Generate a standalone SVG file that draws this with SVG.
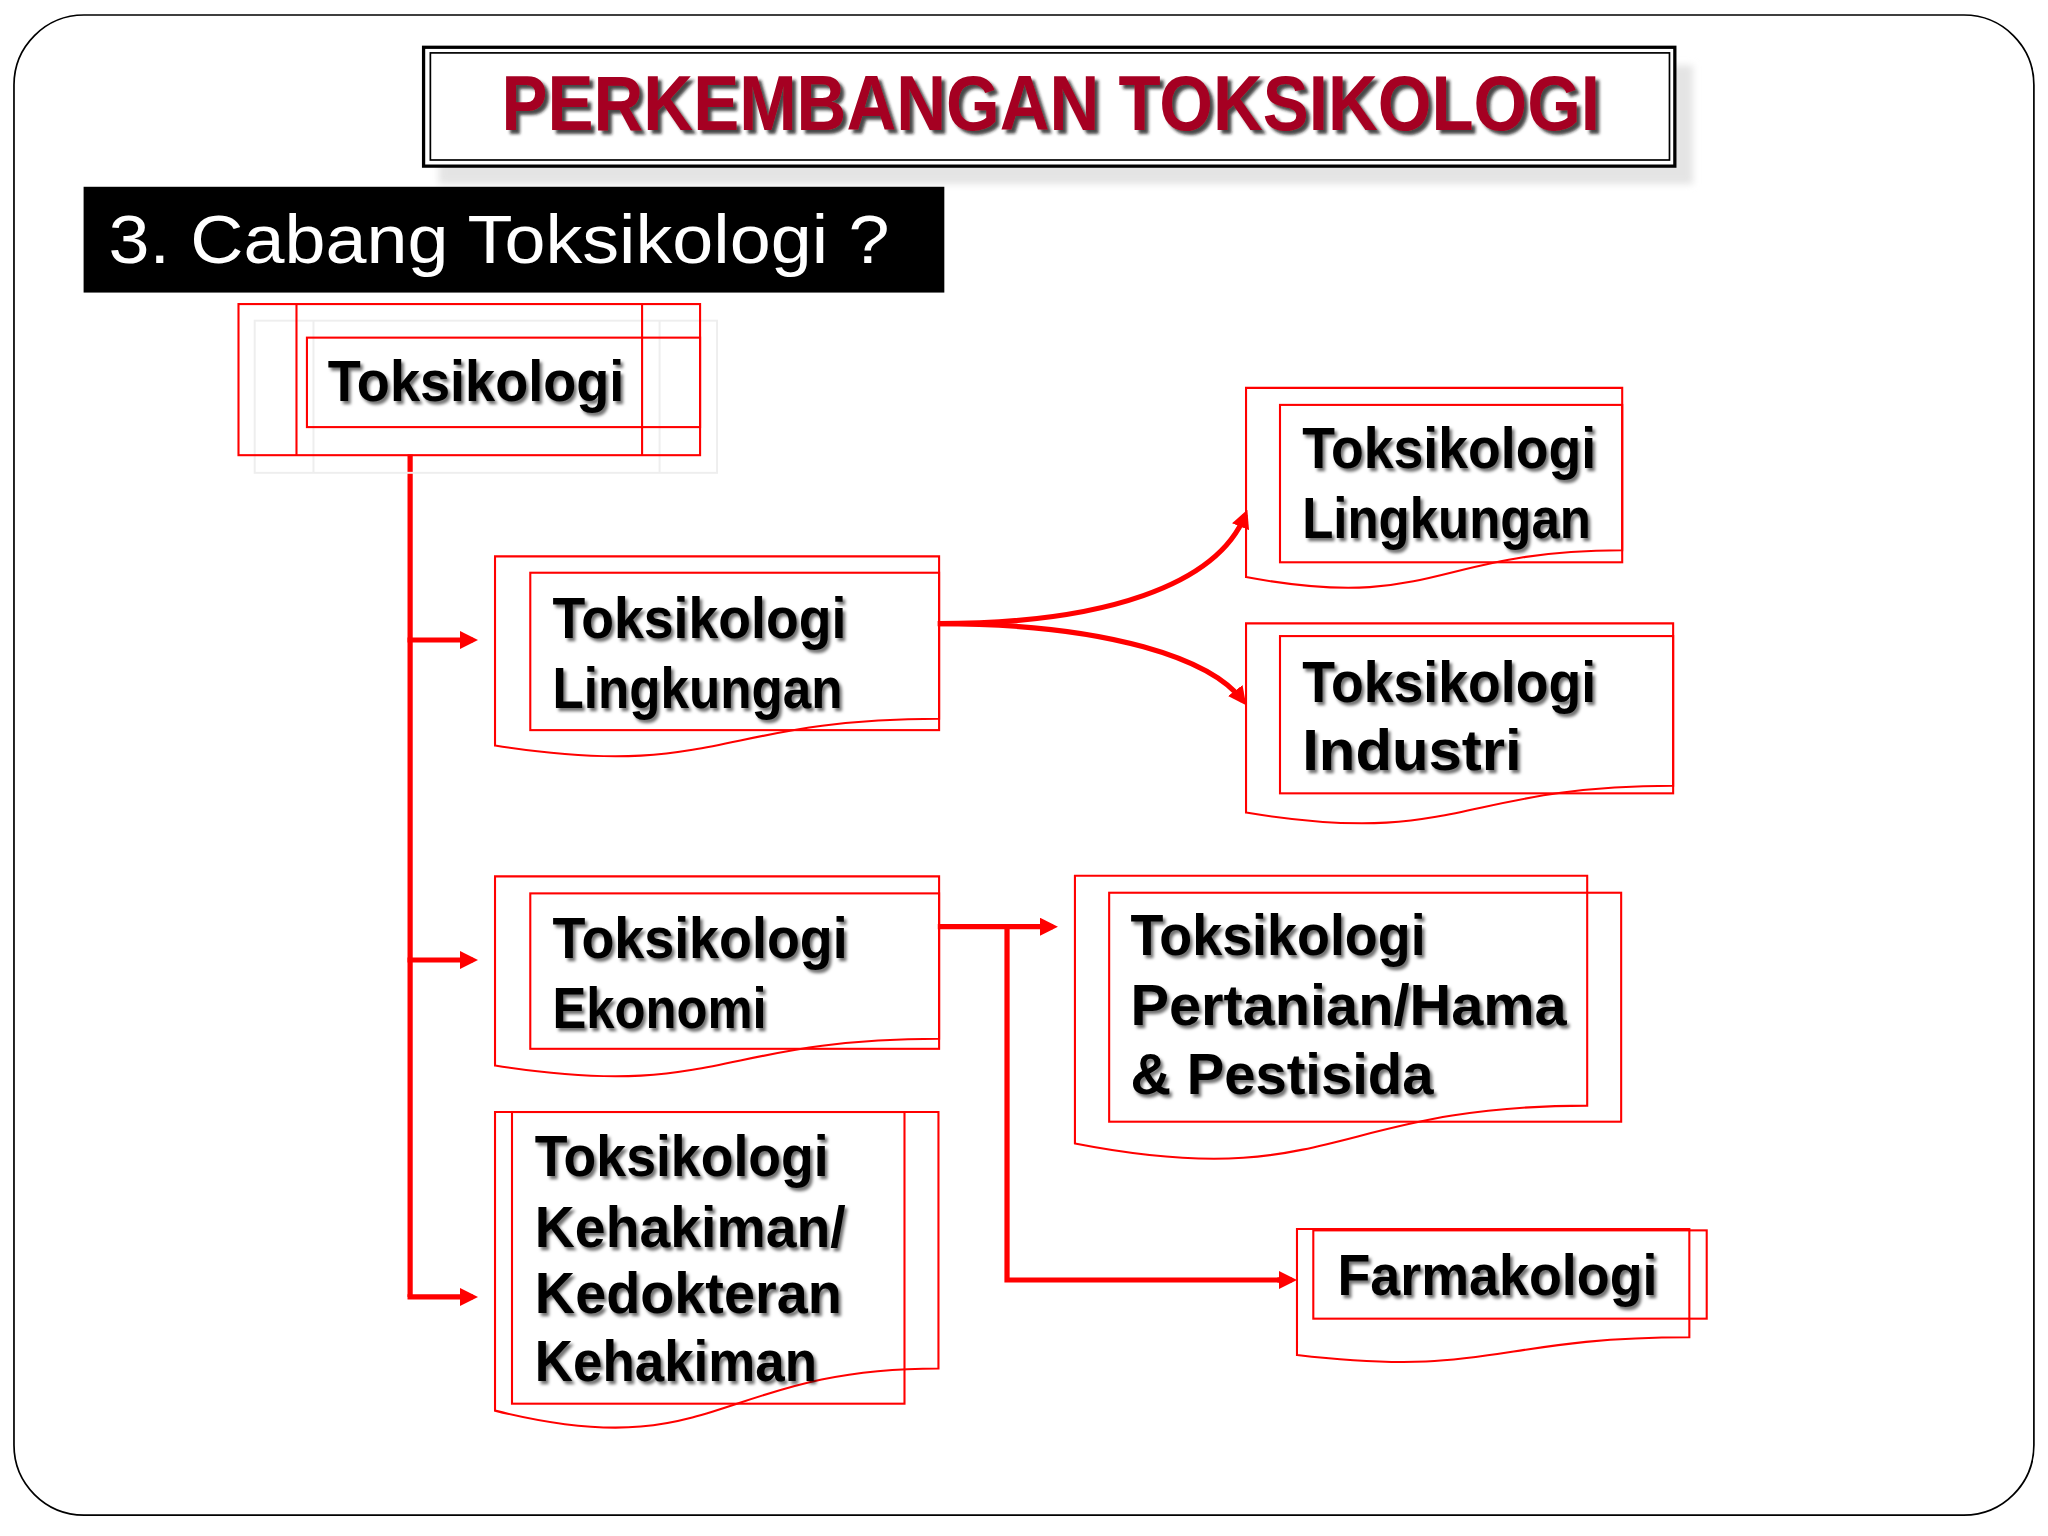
<svg xmlns="http://www.w3.org/2000/svg" width="2048" height="1536" viewBox="0 0 2048 1536">
<defs>
<style>
.nd{fill:none;stroke:#FF0000;stroke-width:1.6}
.fa{fill:none;stroke:#EEEEEE;stroke-width:1.5}
.lbl{font-family:"Liberation Sans",Arial,sans-serif;font-weight:bold;font-size:44px;fill:#000;filter:url(#ts)}
.cn{fill:none;stroke:#FF0000;stroke-width:4}
.ar{fill:none;stroke:#FF0000;stroke-width:4;marker-end:url(#ah)}
</style>
<filter id="ts" x="-10%" y="-30%" width="130%" height="170%"><feDropShadow dx="2" dy="2.5" stdDeviation="1.3" flood-color="#000" flood-opacity="0.55"/></filter>
<filter id="ts2" x="-5%" y="-30%" width="110%" height="170%"><feDropShadow dx="3" dy="3" stdDeviation="1.2" flood-color="#1a1a1a" flood-opacity="0.8"/></filter>
<filter id="sh" x="-5%" y="-20%" width="110%" height="140%"><feGaussianBlur stdDeviation="3"/></filter>
<marker id="ah" markerUnits="userSpaceOnUse" markerWidth="14" markerHeight="14" refX="10" refY="7" orient="auto" viewBox="0 0 14 14"><path d="M0,0 L14,7 L0,14 z" fill="#FF0000"/></marker>
</defs>
<rect width="2048" height="1536" fill="#fff"/>
<g transform="scale(1.306122)">
<rect x="10.7" y="11.5" width="1546.5" height="1148.5" rx="53.6" fill="none" stroke="#000" stroke-width="1.3"/>

<g id="title">
<rect x="336" y="50" width="960" height="91" fill="#e4e4e4" filter="url(#sh)"/>
<rect x="324.3" y="36.2" width="958" height="91" fill="#fff" stroke="#000" stroke-width="2.5"/>
<rect x="329.5" y="40.5" width="948.7" height="82" fill="none" stroke="#000" stroke-width="1.3"/>
<text x="384" y="99.5" font-family="'Liberation Sans',Arial,sans-serif" font-weight="bold" font-size="60" fill="#A50021" textLength="841" lengthAdjust="spacingAndGlyphs" filter="url(#ts2)">PERKEMBANGAN TOKSIKOLOGI</text>
</g>

<g id="header">
<rect x="64" y="143" width="659" height="81" fill="#000"/>
<text x="83" y="201.5" font-family="'Liberation Sans',Arial,sans-serif" font-size="52" fill="#fff" textLength="598" lengthAdjust="spacingAndGlyphs">3. Cabang Toksikologi ?</text>
</g>

<g id="connectors">
<path class="cn" d="M314,348 V993"/>
<path class="ar" d="M312,490 H362"/>
<path class="ar" d="M312,735 H362"/>
<path class="ar" d="M312,993 H362"/>
<path class="ar" d="M718,477.5 C845,477.5 932,448 953.5,394"/>
<path class="ar" d="M718,477.5 C850,477.5 928,505 951.7,536.7"/>
<path class="ar" d="M718,709.5 H806"/>
<path class="cn" d="M771,709.5 V980 H980"/>
<path class="ar" d="M978,980 H989"/>
</g>

<g id="node-toksikologi">
<rect class="fa" x="195" y="245.5" width="354" height="116.5"/>
<path class="fa" d="M240,245.5 V362 M505,245.5 V362"/>
<rect class="nd" x="182.6" y="232.8" width="353.4" height="115.7"/>
<path class="nd" d="M227,232.8 V348.5 M491.6,232.8 V348.5"/>
<rect class="nd" x="235" y="258.5" width="301" height="68.5"/>
<text class="lbl" x="251" y="307" textLength="227" lengthAdjust="spacingAndGlyphs">Toksikologi</text>
</g>

<g id="node-lingkungan-left">
<path class="nd" d="M379,426 H719 V550.3 C549,550.3 549,597.7 379,570.8 Z"/>
<rect class="nd" x="406" y="438.5" width="313" height="120.5"/>
<text class="lbl" x="423" y="488.5" textLength="225" lengthAdjust="spacingAndGlyphs">Toksikologi</text>
<text class="lbl" x="423" y="542" textLength="222" lengthAdjust="spacingAndGlyphs">Lingkungan</text>
</g>

<g id="node-ekonomi">
<path class="nd" d="M379,671 H719 V795.3 C549,795.3 549,842.7 379,815.8 Z"/>
<rect class="nd" x="406" y="684" width="313" height="119"/>
<text class="lbl" x="423" y="733.5" textLength="226" lengthAdjust="spacingAndGlyphs">Toksikologi</text>
<text class="lbl" x="423" y="787" textLength="164" lengthAdjust="spacingAndGlyphs">Ekonomi</text>
</g>

<g id="node-kehakiman">
<path class="nd" d="M379,851.4 H718.5 V1047.7 C548.7,1047.7 548.7,1122.5 379,1080 Z"/>
<rect class="nd" x="392" y="851.4" width="300.5" height="223.3"/>
<text class="lbl" x="409.5" y="900" textLength="225" lengthAdjust="spacingAndGlyphs">Toksikologi</text>
<text class="lbl" x="409.5" y="954.5" textLength="238" lengthAdjust="spacingAndGlyphs">Kehakiman/</text>
<text class="lbl" x="409.5" y="1005.5" textLength="235" lengthAdjust="spacingAndGlyphs">Kedokteran</text>
<text class="lbl" x="409.5" y="1057" textLength="216" lengthAdjust="spacingAndGlyphs">Kehakiman</text>
</g>

<g id="node-lingkungan-right">
<path class="nd" d="M954,297 H1242 V421.3 C1098,421.3 1098,468.7 954,441.8 Z"/>
<rect class="nd" x="980" y="310" width="262" height="120.5"/>
<text class="lbl" x="997" y="358.6" textLength="225" lengthAdjust="spacingAndGlyphs">Toksikologi</text>
<text class="lbl" x="997" y="412" textLength="221" lengthAdjust="spacingAndGlyphs">Lingkungan</text>
</g>

<g id="node-industri">
<path class="nd" d="M954,477.3 H1281 V601.6 C1117.5,601.6 1117.5,649 954,622.1 Z"/>
<rect class="nd" x="980" y="487" width="301" height="120.4"/>
<text class="lbl" x="997" y="537.2" textLength="225" lengthAdjust="spacingAndGlyphs">Toksikologi</text>
<text class="lbl" x="997" y="589.6" textLength="168" lengthAdjust="spacingAndGlyphs">Industri</text>
</g>

<g id="node-pertanian">
<path class="nd" d="M823,670.5 H1215.2 V846.5 C1019,846.5 1019,913.6 823,875.5 Z"/>
<rect class="nd" x="849.2" y="683.5" width="392" height="175.3"/>
<text class="lbl" x="865.5" y="731.5" textLength="226" lengthAdjust="spacingAndGlyphs">Toksikologi</text>
<text class="lbl" x="865.5" y="785" textLength="334" lengthAdjust="spacingAndGlyphs">Pertanian/Hama</text>
<text class="lbl" x="865.5" y="837.5" textLength="232" lengthAdjust="spacingAndGlyphs">&amp; Pestisida</text>
</g>

<g id="node-farmakologi">
<path class="nd" d="M993,941 H1293.4 V1023.8 C1143.2,1023.8 1143.2,1055.1 993,1037.4 Z"/>
<rect class="nd" x="1005.5" y="942" width="301.2" height="67.6"/>
<text class="lbl" x="1024" y="991.5" textLength="245" lengthAdjust="spacingAndGlyphs">Farmakologi</text>
</g>
</g>
</svg>
